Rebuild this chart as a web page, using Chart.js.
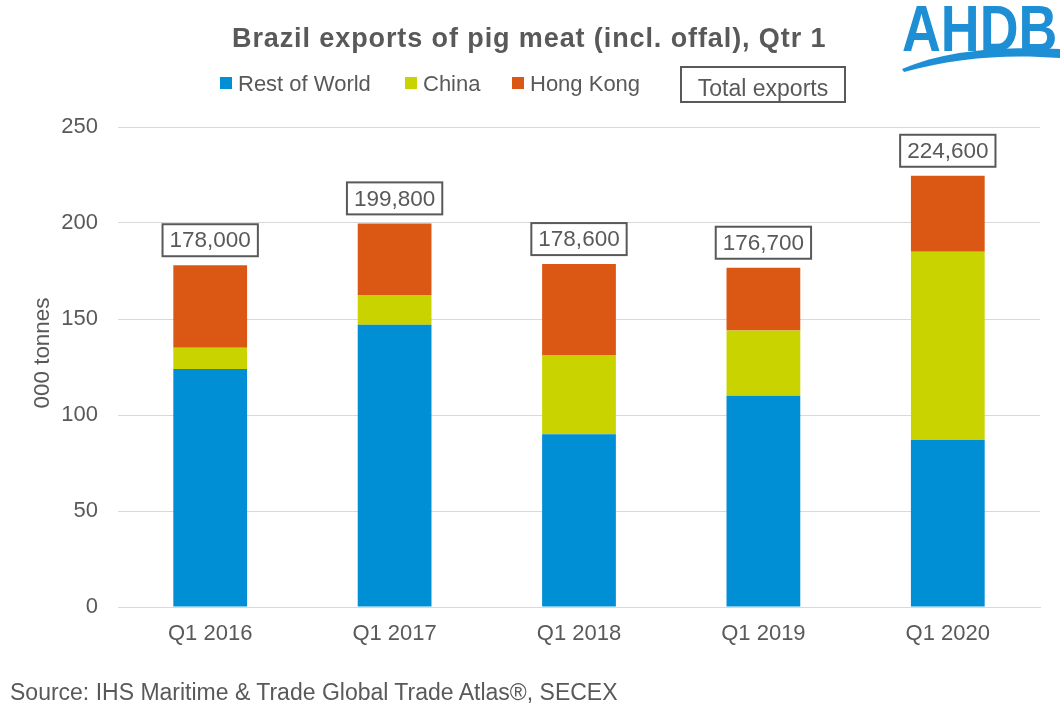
<!DOCTYPE html>
<html>
<head>
<meta charset="utf-8">
<script src="https://cdn.jsdelivr.net/npm/chart.js@4"></script>
<style>
  html, body { margin: 0; padding: 0; background: #fff; }
  body { width: 1063px; height: 709px; position: relative; overflow: hidden; font-family: 'Liberation Sans', Arial, sans-serif; color: #595959; }
  #wrap { position: absolute; left: 0; top: 0; width: 1063px; height: 709px; }
  .title { position: absolute; left: 232px; top: 22px; font-size: 27px; line-height: 32px; font-weight: bold; letter-spacing: 0.9px; white-space: nowrap; }
  .legend { position: absolute; top: 70px; font-size: 22px; line-height: 28px; white-space: nowrap; }
  .legend i { display: inline-block; width: 12px; height: 12px; margin-right: 6px; vertical-align: 2px; }
  .totbox { position: absolute; left: 680px; top: 66px; width: 162px; height: 33px; border: 2px solid #595959; font-size: 23px; text-align: center; line-height: 40px; }
  .source { position: absolute; left: 10px; top: 679px; font-size: 23px; line-height: 26px; white-space: nowrap; }
  .logo { position: absolute; left: 902px; top: -3px; font-size: 64px; line-height: 64px; font-weight: bold; color: #1e8fd5; transform: scaleX(0.84); transform-origin: left top; white-space: nowrap; }
  svg.wave { position: absolute; left: 898px; top: 44px; }
</style>
</head>
<body>
<div id="wrap"><canvas id="chart" width="1063" height="709"></canvas></div>
<div class="title">Brazil exports of pig meat (incl. offal), Qtr 1</div>
<div class="legend" style="left:220px"><i style="background:#008fd5"></i>Rest of World</div>
<div class="legend" style="left:405px"><i style="background:#c9d300"></i>China</div>
<div class="legend" style="left:512px"><i style="background:#db5714"></i>Hong Kong</div>
<div class="totbox">Total exports</div>
<div class="source">Source: IHS Maritime &amp; Trade Global Trade Atlas®, SECEX</div>
<div class="logo">AHDB</div>
<svg class="wave" width="165" height="30" viewBox="0 0 165 30">
  <path d="M4 25 C 45 7, 100 2, 162 5 L 162 14 C 110 10, 60 13, 6 28 Z" fill="#1e8fd5"/>
</svg>

<script>
// ---- data (000 tonnes) ----
const categories = ['Q1 2016', 'Q1 2017', 'Q1 2018', 'Q1 2019', 'Q1 2020'];
const restOfWorld = [124, 147, 90, 110, 87];
const china       = [11, 15.5, 41, 34, 98];
const hongKong    = [43, 37.3, 47.6, 32.7, 39.6];
const totalLabels = ['178,000', '199,800', '178,600', '176,700', '224,600'];
const yTicks = [0, 50, 100, 150, 200, 250];
const yTitle = '000 tonnes';

const textColor = '#595959';
const gridColor = '#d9d9d9';
const fontFamily = "'Liberation Sans', Arial, sans-serif";

Chart.defaults.font.family = fontFamily;
Chart.defaults.font.size = 22;
Chart.defaults.color = textColor;

// boxed total above each stack + y axis title
const totalBoxes = {
  id: 'totalBoxes',
  afterDatasetsDraw(chart) {
    const ctx = chart.ctx;
    const x = chart.scales.x, y = chart.scales.y;
    ctx.save();
    ctx.font = '22.5px ' + fontFamily;
    ctx.textAlign = 'center';
    ctx.textBaseline = 'middle';
    categories.forEach((c, i) => {
      const total = restOfWorld[i] + china[i] + hongKong[i];
      const cx = x.getPixelForValue(i);
      const top = y.getPixelForValue(total);
      const w = ctx.measureText(totalLabels[i]).width + 14;
      const h = 32;
      const by = top - 9 - h;
      ctx.fillStyle = '#fff';
      ctx.fillRect(cx - w / 2, by, w, h);
      ctx.strokeStyle = textColor;
      ctx.lineWidth = 2;
      ctx.strokeRect(cx - w / 2, by, w, h);
      ctx.fillStyle = textColor;
      ctx.fillText(totalLabels[i], cx, by + h / 2 + 1);
    });

    // y axis title
    ctx.translate(43, 353);
    ctx.rotate(-Math.PI / 2);
    ctx.font = '22.4px ' + fontFamily;
    ctx.fillText(yTitle, 0, 0);
    ctx.restore();
  }
};

new Chart(document.getElementById('chart'), {
  type: 'bar',
  data: {
    labels: categories,
    datasets: [
      { label: 'Rest of World', data: restOfWorld, backgroundColor: '#008fd5' },
      { label: 'China', data: china, backgroundColor: '#c9d300' },
      { label: 'Hong Kong', data: hongKong, backgroundColor: '#db5714' },
    ]
  },
  options: {
    responsive: false,
    animation: false,
    layout: { padding: { left: 0, top: 127, right: 23, bottom: 42 } },
    datasets: { bar: { barPercentage: 0.4, categoryPercentage: 1 } },
    plugins: { legend: { display: false }, tooltip: { enabled: false } },
    scales: {
      x: {
        stacked: true,
        grid: { display: false },
        border: { display: true, color: gridColor, width: 1 },
        ticks: { color: textColor, padding: 6, font: { size: 22 } },
        afterFit: s => { s.height = 60; }
      },
      y: {
        stacked: true,
        min: 0, max: 250,
        afterBuildTicks: s => { s.ticks = yTicks.map(v => ({ value: v })); },
        grid: { color: gridColor, drawTicks: false, lineWidth: 1 },
        border: { display: false },
        ticks: { color: textColor, padding: 20, font: { size: 22 } },
        afterFit: s => { s.width = 118; }
      }
    }
  },
  plugins: [totalBoxes]
});
</script>
</body>
</html>
